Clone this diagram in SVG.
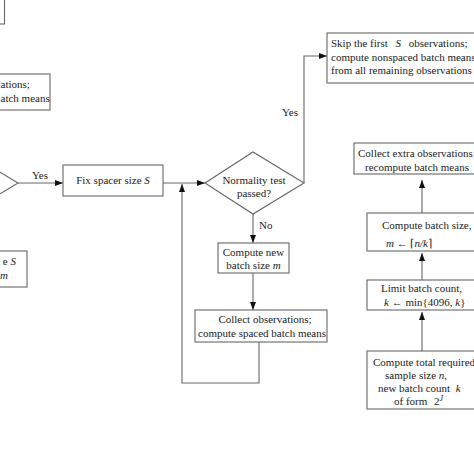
<svg xmlns="http://www.w3.org/2000/svg" width="474" height="474" viewBox="0 0 474 474">
<style>
.box{fill:#fff;stroke:#666;stroke-width:1.1}
.ln{fill:none;stroke:#666;stroke-width:1.1}
text{font-family:"Liberation Serif","Times New Roman",serif;font-size:11px;fill:#222}
.c{text-anchor:middle}
.i{font-style:italic}
</style>
<defs>
<marker id="ah" markerUnits="userSpaceOnUse" markerWidth="9" markerHeight="6" refX="8" refY="3" orient="auto">
<path d="M0,0 L8,3 L0,6 z" fill="#111"/>
</marker>
</defs>
<rect width="474" height="474" fill="#fff"/>

<g id="connectors">
<path class="ln" d="M18,183 L63,183" marker-end="url(#ah)"/>
<path class="ln" d="M163,183 L205,183" marker-end="url(#ah)"/>
<path class="ln" d="M304,183 L304,56 L327,56" marker-end="url(#ah)"/>
<path class="ln" d="M253,214 L253,243" marker-end="url(#ah)"/>
<path class="ln" d="M253,273 L253,310" marker-end="url(#ah)"/>
<path class="ln" d="M259,342 L259,383 L182,383 L182,184" marker-end="url(#ah)"/>
<path class="ln" d="M422,351 L422,312" marker-end="url(#ah)"/>
<path class="ln" d="M422,280 L422,253" marker-end="url(#ah)"/>
<path class="ln" d="M422,213 L422,180" marker-end="url(#ah)"/>
<text class="c" x="40" y="179">Yes</text>
<text class="c" x="290" y="116">Yes</text>
<text x="259" y="229">No</text>
</g>

<g id="node-topleft">
<rect class="box" x="-6" y="-6" width="10.5" height="30"/>
</g>

<g id="node-collect-left">
<rect class="box" x="-6" y="74" width="56" height="36"/>
<text x="0.5" y="88">ations;</text>
<text x="0.5" y="102">atch means</text>
</g>

<g id="node-decision-left">
<path class="box" d="M-10,166 L18,183 L-10,200"/>
</g>

<g id="node-increase">
<rect class="box" x="-6" y="251" width="33" height="36"/>
<text x="16" y="265" text-anchor="end">e <tspan class="i">S</tspan></text>
<text x="8" y="279" text-anchor="end" class="i">m</text>
</g>

<g id="node-fix">
<rect class="box" x="63" y="165" width="100" height="31"/>
<text class="c" x="113" y="184">Fix spacer size <tspan class="i">S</tspan></text>
</g>

<g id="node-normality">
<polygon class="box" points="205,183 253,152 304,183 253,214"/>
<text class="c" x="254" y="184">Normality test</text>
<text class="c" x="254" y="197">passed?</text>
</g>

<g id="node-skip">
<rect class="box" x="327" y="33" width="160" height="50"/>
<text x="331" y="47">Skip the first <tspan class="i" dx="5">S</tspan><tspan dx="5"> observations;</tspan></text>
<text x="331" y="60.5">compute nonspaced batch means</text>
<text x="331" y="74">from all remaining observations</text>
</g>

<g id="node-newbatch">
<rect class="box" x="218" y="243" width="71" height="30"/>
<text class="c" x="253.5" y="256">Compute new</text>
<text class="c" x="253.5" y="269">batch size <tspan class="i">m</tspan></text>
</g>

<g id="node-collect-spaced">
<rect class="box" x="195" y="310" width="132" height="32"/>
<text class="c" x="265" y="323">Collect observations;</text>
<text class="c" x="262" y="337">compute spaced batch means</text>
</g>

<g id="node-collect-extra">
<rect class="box" x="354" y="143" width="130" height="31"/>
<text class="c" x="417" y="157">Collect extra observations;</text>
<text class="c" x="417" y="170.5">recompute batch means</text>
</g>

<g id="node-batchsize">
<rect class="box" x="367" y="213" width="120" height="38"/>
<text x="382" y="229">Compute batch size,</text>
<text x="386" y="247"><tspan class="i">m</tspan> ← ⌈<tspan class="i">n/k</tspan>⌉</text>
</g>

<g id="node-limit">
<rect class="box" x="367" y="280" width="120" height="30"/>
<text x="381" y="292">Limit batch count,</text>
<text x="384" y="306"><tspan class="i">k</tspan> ←  min{4096, <tspan class="i">k</tspan>}</text>
</g>

<g id="node-total">
<rect class="box" x="367" y="351" width="120" height="58"/>
<text x="373" y="365.5">Compute total required</text>
<text x="385" y="378.5">sample size <tspan class="i">n</tspan>,</text>
<text x="378" y="391.5">new batch count <tspan class="i" dx="3">k</tspan></text>
<text x="394" y="404.5">of form <tspan dx="4">2</tspan><tspan class="i" font-size="8" dy="-4">J</tspan></text>
</g>
</svg>
